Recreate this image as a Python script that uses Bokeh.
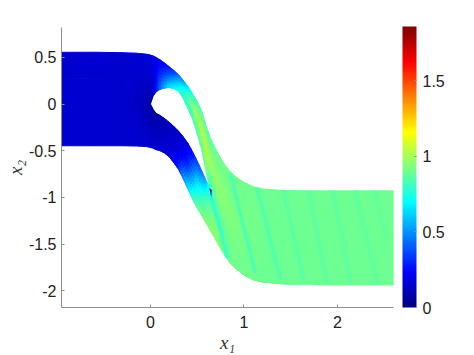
from bokeh.plotting import figure
from bokeh.models import (LinearColorMapper, ColorBar, FixedTicker, ColumnDataSource, Range1d)
from bokeh.embed import file_html
from bokeh.resources import INLINE

# stations along x1
X = [-0.952,-0.6,-0.3,-0.15,-0.05,0.0,0.03,0.06,0.1,0.15,0.2,0.25,0.3,0.35,0.4,0.45,0.5,0.55,0.6,0.64,
     0.7,0.75,0.8,0.85,0.9,1.0,1.1,1.2,1.4,1.6,1.8,2.0,2.2,2.4,2.6]
# boundaries in x2
Y_TOP = [0.554,0.555,0.55,0.545,0.535,0.525,0.515,0.50,0.475,0.44,0.40,0.36,0.315,0.255,0.19,0.11,0.03,-0.08,-0.25,-0.36,
         -0.49,-0.58,-0.66,-0.72,-0.77,-0.84,-0.885,-0.91,-0.925,-0.93,-0.93,-0.93,-0.93,-0.93,-0.93]
Y_HOLE_T = [0.0,0.0,0.0,0.0,0.0,0.0,0.09,0.13,0.155,0.17,0.175,0.165,0.135,0.06,-0.05,-0.16,-0.32,-0.50,-0.75,-0.90,
            -1.13,-1.33,-1.52,-1.70,-1.75,-1.83,-1.88,-1.905,-1.925,-1.93,-1.935,-1.935,-1.935,-1.935,-1.935]
Y_HOLE_B = [0.0,0.0,0.0,0.0,0.0,0.0,-0.06,-0.10,-0.12,-0.155,-0.195,-0.24,-0.29,-0.35,-0.42,-0.51,-0.61,-0.72,-0.83,-0.90,
            -1.13,-1.33,-1.52,-1.70,-1.75,-1.83,-1.88,-1.905,-1.925,-1.93,-1.935,-1.935,-1.935,-1.935,-1.935]
Y_BOT = [-0.447,-0.447,-0.447,-0.45,-0.455,-0.465,-0.475,-0.49,-0.50,-0.525,-0.565,-0.63,-0.70,-0.80,-0.91,-1.02,-1.115,-1.20,-1.285,-1.355,
         -1.46,-1.55,-1.625,-1.70,-1.75,-1.83,-1.88,-1.905,-1.925,-1.93,-1.935,-1.935,-1.935,-1.935,-1.935]
# speed values across each station
V_TOP = [0.15,0.15,0.15,0.15,0.16,0.17,0.18,0.19,0.20,0.22,0.25,0.30,0.40,0.50,0.62,0.75,0.82,0.85,0.85,0.85,
         0.88,0.90,0.90,0.90,0.90,0.90,0.90,0.90,0.90,0.90,0.90,0.90,0.90,0.90,0.90]
V_MID_A = [0.15,0.15,0.15,0.15,0.14,0.14,0.16,0.22,0.30,0.36,0.42,0.50,0.60,0.72,0.85,0.95,1.00,1.03,1.05,1.00,
           0.97,0.96,0.95,0.94,0.93,0.92,0.91,0.90,0.90,0.90,0.90,0.90,0.90,0.90,0.90]
V_HOLE_T = [0.15,0.15,0.15,0.13,0.10,0.06,0.12,0.25,0.42,0.56,0.66,0.70,0.75,0.80,0.78,0.80,0.82,0.85,0.90,0.80,
            0.85,0.85,0.86,0.88,0.90,0.90,0.90,0.90,0.90,0.90,0.90,0.90,0.90,0.90,0.90]
V_HOLE_B = [0.15,0.15,0.15,0.13,0.10,0.06,0.06,0.07,0.08,0.10,0.12,0.12,0.13,0.14,0.16,0.22,0.33,0.42,0.55,0.80,
            0.85,0.85,0.86,0.88,0.90,0.90,0.90,0.90,0.90,0.90,0.90,0.90,0.90,0.90,0.90]
V_MID_B = [0.15,0.15,0.15,0.15,0.13,0.12,0.11,0.11,0.12,0.13,0.14,0.15,0.17,0.22,0.30,0.48,0.65,0.75,0.85,0.88,
           0.97,1.0,0.98,0.95,0.93,0.92,0.91,0.90,0.90,0.90,0.90,0.90,0.90,0.90,0.90]
V_BOT = [0.15,0.15,0.15,0.15,0.15,0.15,0.15,0.15,0.15,0.16,0.17,0.22,0.30,0.50,0.65,0.80,0.90,0.92,0.95,0.95,
         0.93,0.92,0.90,0.90,0.90,0.90,0.90,0.90,0.90,0.90,0.90,0.90,0.90,0.90,0.90]
# wake stripes: start and end points, value
STRIPE_X0 = [0.63,0.856,1.14,1.42,1.69,1.95,2.19,2.40]
STRIPE_Y0 = [-0.93,-0.75,-0.90,-0.92,-0.93,-0.93,-0.93,-0.93]
STRIPE_X1 = [0.82,1.12,1.39,1.64,1.89,2.14,2.43,2.52]
STRIPE_Y1 = [-1.65,-1.81,-1.88,-1.90,-1.92,-1.93,-1.93,-1.45]
STRIPE_V = [0.72,0.78,0.81,0.83,0.84,0.85,0.85,0.86]
# sharp dark tip at the trailing edge
TIP_X = [0.63,0.655,0.65]
TIP_Y = [-0.90,-0.92,-1.00]
TIP_V = [0.2]
VMIN, VMAX = 0.0, 1.86
X_TICKS = [0,1,2]
X_LABELS = ["0","1","2"]
Y_TICKS = [-2,-1.5,-1,-0.5,0,0.5]
Y_LABELS = ["-2","-1.5","-1","-0.5","0","0.5"]
CB_TICKS = [0,0.5,1,1.5]
CB_LABELS = ["0","0.5","1","1.5"]

def jet(n=256):
    out = []
    for i in range(n):
        t = i/(n-1)
        r = min(max(min(4*t-1.5, -4*t+4.5), 0), 1)
        g = min(max(min(4*t-0.5, -4*t+3.5), 0), 1)
        b = min(max(min(4*t+0.5, -4*t+2.5), 0), 1)
        out.append("#%02x%02x%02x" % (int(r*255), int(g*255), int(b*255)))
    return out

mapper = LinearColorMapper(palette=jet(), low=VMIN, high=VMAX)

def lerp(a, b, t):
    return a + (b-a)*t

xs, ys, vs = [], [], []
SUB_X, SUB_Y = 3, 4
def shade(i, ya0, ya1, va0, va1):
    x0, x1 = X[i], X[i+1]
    flat = max(va0[i],va0[i+1],va1[i],va1[i+1]) - min(va0[i],va0[i+1],va1[i],va1[i+1]) < 1e-9
    nx, ny = (1, 1) if flat else (SUB_X, SUB_Y)
    for a in range(nx):
        for b in range(ny):
            s0, s1 = a/nx, (a+1)/nx
            t0, t1 = b/ny, (b+1)/ny
            def pt(s, t):
                return lerp(lerp(ya0[i],ya0[i+1],s), lerp(ya1[i],ya1[i+1],s), t)
            def val(s, t):
                return lerp(lerp(va0[i],va0[i+1],s), lerp(va1[i],va1[i+1],s), t)
            xs.append([lerp(x0,x1,s0),lerp(x0,x1,s1),lerp(x0,x1,s1),lerp(x0,x1,s0)])
            ys.append([pt(s0,t0),pt(s1,t0),pt(s1,t1),pt(s0,t1)])
            vs.append(val((s0+s1)/2,(t0+t1)/2))

def midline(a, b):
    return [(p+q)/2 for p, q in zip(a, b)]

Y_MID_A = midline(Y_TOP, Y_HOLE_T)
Y_MID_B = midline(Y_HOLE_B, Y_BOT)
bands = [(Y_TOP,Y_MID_A,V_TOP,V_MID_A),(Y_MID_A,Y_HOLE_T,V_MID_A,V_HOLE_T),
         (Y_HOLE_B,Y_MID_B,V_HOLE_B,V_MID_B),(Y_MID_B,Y_BOT,V_MID_B,V_BOT)]
for i in range(len(X)-1):
    for ya0, ya1, va0, va1 in bands:
        shade(i, ya0, ya1, va0, va1)

p = figure(width=474, height=355, output_backend="svg", toolbar_location=None,
           x_range=Range1d(-0.952, 2.6), y_range=Range1d(-2.18, 0.82),
           min_border_left=61, min_border_right=0, min_border_top=27, min_border_bottom=48)
p.frame_width = 332
p.frame_height = 280
p.outline_line_color = None
p.grid.visible = False
p.background_fill_color = "white"

src = ColumnDataSource(dict(xs=xs, ys=ys, v=vs))
fc = {"field": "v", "transform": mapper}
p.patches("xs", "ys", source=src, fill_color=fc, line_color=fc, line_width=1)

sx = [[a, b] for a, b in zip(STRIPE_X0, STRIPE_X1)]
sy = [[a, b] for a, b in zip(STRIPE_Y0, STRIPE_Y1)]
ssrc = ColumnDataSource(dict(xs=sx, ys=sy, v=STRIPE_V))
p.multi_line("xs", "ys", source=ssrc, line_color=fc, line_width=5, line_alpha=0.3)
p.multi_line("xs", "ys", source=ssrc, line_color=fc, line_width=2, line_alpha=0.45)
p.patches([TIP_X], [TIP_Y], fill_color=mapper.palette[int(TIP_V[0]/VMAX*255)], line_color=None)

for ax, ticks, labels in ((p.xaxis[0], X_TICKS, X_LABELS), (p.yaxis[0], Y_TICKS, Y_LABELS)):
    ax.ticker = FixedTicker(ticks=ticks)
    ax.major_label_overrides = dict(zip(ticks, labels))
    ax.major_tick_in = 3
    ax.major_tick_out = 0
    ax.minor_tick_line_color = None
    ax.axis_line_color = "#8c8c8c"
    ax.major_tick_line_color = "#8c8c8c"
    ax.major_label_text_font = "Liberation Sans"
    ax.major_label_text_font_size = "16px"
    ax.major_label_text_color = "#222222"
    ax.axis_label_text_font = "Liberation Serif"
    ax.axis_label_text_font_style = "italic"
    ax.axis_label_text_font_size = "19px"
    ax.axis_label_text_color = "#333333"
p.xaxis[0].axis_label = "x\u2081"
p.yaxis[0].axis_label = "x\u2082"
p.xaxis[0].major_label_standoff = 8
p.yaxis[0].major_label_standoff = 5
p.xaxis[0].axis_label_standoff = 1
p.yaxis[0].axis_label_standoff = 0

cb = ColorBar(color_mapper=mapper, width=14, height=281, padding=0, margin=0,
              location=(9, 0), ticker=FixedTicker(ticks=CB_TICKS),
              major_label_overrides=dict(zip(CB_TICKS, CB_LABELS)),
              major_label_text_font="Liberation Sans", major_label_text_font_size="16px",
              major_label_text_color="#222222", label_standoff=6,
              major_tick_line_color="#8c8c8c", major_tick_in=2, major_tick_out=0,
              minor_tick_line_color=None, bar_line_color=None, border_line_color=None,
              background_fill_color=None)
p.add_layout(cb, "right")

open("out.html", "w").write(file_html(p, INLINE))
